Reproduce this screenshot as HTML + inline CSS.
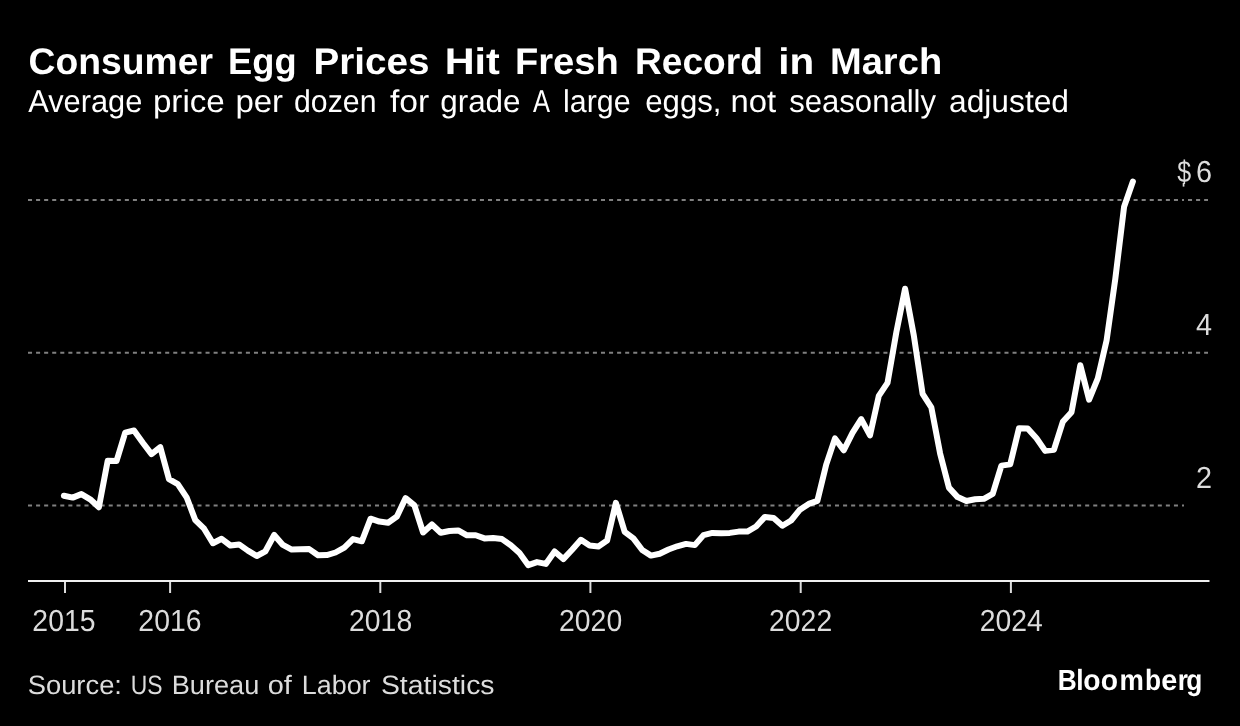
<!DOCTYPE html>
<html><head><meta charset="utf-8">
<style>
html,body{margin:0;padding:0;background:#000;}
body{width:1240px;height:726px;overflow:hidden;position:relative;font-family:"Liberation Sans",sans-serif;}
svg{position:absolute;left:0;top:0;display:block;will-change:transform;}
text{font-family:"Liberation Sans",sans-serif;text-rendering:geometricPrecision;}
.tb{font-size:37px;font-weight:bold;fill:#fff;}
.ts{font-size:31.5px;fill:#fff;}
.tc{font-size:26.5px;fill:#dcdcdc;}
.tl{font-size:29.2px;font-weight:bold;fill:#fff;}
.yl{font-size:30.5px;fill:#dcdcdc;text-anchor:end;}
.xl{font-size:30.5px;fill:#dcdcdc;text-anchor:middle;}
</style></head><body>
<svg width="1240" height="726" viewBox="0 0 1240 726">
<rect width="1240" height="726" fill="#000"/>
<!-- headline -->
<text class="tb" transform="translate(28.49,73.9) scale(1.0078,1)">Consumer</text>
<text class="tb" transform="translate(228.04,73.9) scale(0.9807,1)">Egg</text>
<text class="tb" transform="translate(313.41,73.9) scale(1.0437,1)">Prices</text>
<text class="tb" transform="translate(444.77,73.9) scale(1.117,1)">Hit</text>
<text class="tb" transform="translate(514.94,73.9) scale(1.0293,1)">Fresh</text>
<text class="tb" transform="translate(634.99,73.9) scale(1.003,1)">Record</text>
<text class="tb" transform="translate(778.31,73.9) scale(1.0929,1)">in</text>
<text class="tb" transform="translate(829.94,73.9) scale(1.0297,1)">March</text>
<!-- subhead -->
<text class="ts" transform="translate(28.25,111.5) scale(0.9765,1)">Average</text>
<text class="ts" transform="translate(152.89,111.5) scale(1.0531,1)">price</text>
<text class="ts" transform="translate(235.41,111.5) scale(1.0456,1)">per</text>
<text class="ts" transform="translate(294.04,111.5) scale(0.9603,1)">dozen</text>
<text class="ts" transform="translate(390.0,111.5) scale(1.0684,1)">for</text>
<text class="ts" transform="translate(440.25,111.5) scale(0.9963,1)">grade</text>
<text class="ts" transform="translate(533.0,111.5) scale(0.8095,1)">A</text>
<text class="ts" transform="translate(563.07,111.5) scale(0.9626,1)">large</text>
<text class="ts" transform="translate(645.26,111.5) scale(0.989,1)">eggs,</text>
<text class="ts" transform="translate(730.42,111.5) scale(1.0407,1)">not</text>
<text class="ts" transform="translate(789.25,111.5) scale(0.986,1)">seasonally</text>
<text class="ts" transform="translate(948.99,111.5) scale(1.0079,1)">adjusted</text>
<!-- gridlines -->
<g stroke="#808080" stroke-width="2" stroke-dasharray="4.03 4.04" fill="none">
<line x1="28" y1="200" x2="1184" y2="200"/>
<line x1="1188" y1="200" x2="1208" y2="200"/>
<line x1="28" y1="352.75" x2="1184" y2="352.75"/>
<line x1="1188" y1="352.75" x2="1208" y2="352.75"/>
<line x1="28" y1="505.5" x2="1184" y2="505.5"/>
</g>
<!-- x axis -->
<line x1="28" y1="581" x2="1209.5" y2="581" stroke="#f0f0f0" stroke-width="2"/>
<g stroke="#dcdcdc" stroke-width="2">
<line x1="65" y1="582" x2="65" y2="593"/>
<line x1="170.1" y1="582" x2="170.1" y2="593"/>
<line x1="380.3" y1="582" x2="380.3" y2="593"/>
<line x1="590.4" y1="582" x2="590.4" y2="593"/>
<line x1="800.7" y1="582" x2="800.7" y2="593"/>
<line x1="1010.9" y1="582" x2="1010.9" y2="593"/>
</g>
<!-- series -->
<path d="M63.9,495.7 L72.7,497.6 L81.4,494.1 L90.2,499.3 L98.9,507.2 L107.7,460.8 L116.5,461.1 L125.2,432.6 L134.0,430.5 L142.8,442.7 L151.5,454.1 L160.3,447.2 L169.0,479.2 L177.8,484.1 L186.6,497.3 L195.3,520.1 L204.1,528.7 L212.9,543.2 L221.6,538.8 L230.4,545.5 L239.1,544.4 L247.9,550.6 L256.7,556.0 L265.4,551.3 L274.2,535.0 L282.9,544.9 L291.7,549.6 L300.5,549.3 L309.2,549.1 L318.0,555.2 L326.8,555.1 L335.5,552.5 L344.3,547.6 L353.0,539.1 L361.8,541.3 L370.6,518.7 L379.3,521.6 L388.1,522.7 L396.9,516.5 L405.6,498.1 L414.4,505.4 L423.1,532.5 L431.9,524.5 L440.7,532.8 L449.4,531.0 L458.2,530.4 L467.0,535.3 L475.7,535.2 L484.5,538.4 L493.2,538.1 L502.0,539.1 L510.8,545.3 L519.5,553.0 L528.3,565.2 L537.0,562.1 L545.8,563.9 L554.6,551.5 L563.3,559.1 L572.1,549.7 L580.9,539.8 L589.6,545.5 L598.4,546.4 L607.1,540.6 L615.9,502.8 L624.7,531.8 L633.4,538.4 L642.2,550.0 L651.0,555.6 L659.7,553.7 L668.5,549.5 L677.2,546.3 L686.0,543.9 L694.8,545.1 L703.5,535.1 L712.3,532.9 L721.1,533.3 L729.8,532.9 L738.6,531.6 L747.3,531.6 L756.1,526.5 L764.9,516.9 L773.6,518.0 L782.4,525.8 L791.1,520.5 L799.9,509.7 L808.7,503.9 L817.4,500.8 L826.2,464.6 L835.0,438.4 L843.7,450.3 L852.5,432.8 L861.2,419.1 L870.0,435.4 L878.8,395.9 L887.5,382.9 L896.3,332.5 L905.1,288.7 L913.8,335.4 L922.6,393.9 L931.3,407.3 L940.1,453.4 L948.9,487.6 L957.6,497.1 L966.4,501.0 L975.1,499.3 L983.9,498.8 L992.7,493.8 L1001.4,465.6 L1010.2,464.4 L1019.0,428.2 L1027.7,428.5 L1036.5,438.3 L1045.2,450.9 L1054.0,449.7 L1062.8,421.8 L1071.5,412.3 L1080.3,365.2 L1089.1,399.7 L1097.8,378.4 L1106.6,340.4 L1115.3,278.8 L1124.1,206.7 L1132.9,181.5" fill="none" stroke="#fff" stroke-width="6" stroke-linejoin="round" stroke-linecap="round"/>
<!-- axis labels -->
<text class="xl" transform="translate(63.9,631) scale(0.93,1)">2015</text>
<text class="xl" transform="translate(169.9,631) scale(0.93,1)">2016</text>
<text class="xl" transform="translate(380.6,631) scale(0.93,1)">2018</text>
<text class="xl" transform="translate(590.6,631) scale(0.93,1)">2020</text>
<text class="xl" transform="translate(800.6,631) scale(0.93,1)">2022</text>
<text class="xl" transform="translate(1011.2,631) scale(0.93,1)">2024</text>
<text class="yl" transform="translate(1212,182) scale(0.945,1)">6</text>
<text class="yl" transform="translate(1191.2,182) scale(0.82,1)">$</text>
<rect x="1182.7" y="183" width="1.7" height="3.6" fill="#dcdcdc"/>
<text class="yl" transform="translate(1212,335) scale(0.945,1)">4</text>
<text class="yl" transform="translate(1212,488) scale(0.945,1)">2</text>
<!-- footer -->
<text class="tc" transform="translate(27.72,693.5) scale(1.0317,1)">Source:</text>
<text class="tc" transform="translate(130.77,693.5) scale(0.8642,1)">US</text>
<text class="tc" transform="translate(171.7,693.5) scale(1.0249,1)">Bureau</text>
<text class="tc" transform="translate(267.66,693.5) scale(1.0926,1)">of</text>
<text class="tc" transform="translate(301.72,693.5) scale(1.0159,1)">Labor</text>
<text class="tc" transform="translate(380.93,693.5) scale(1.0713,1)">Statistics</text>
<text class="tl" transform="translate(1057.84,689.7) scale(0.9,1)">B</text>
<text class="tl" transform="translate(1076.28,689.7) scale(0.9,1)">l</text>
<text class="tl" transform="translate(1083.22,689.7) scale(0.9681,1)">o</text>
<text class="tl" transform="translate(1100.64,689.7) scale(0.9681,1)">o</text>
<text class="tl" transform="translate(1119.38,689.7) scale(0.9408,1)">m</text>
<text class="tl" transform="translate(1145.12,689.7) scale(0.9,1)">b</text>
<text class="tl" transform="translate(1161.27,689.7) scale(0.9893,1)">e</text>
<text class="tl" transform="translate(1177.82,689.7) scale(0.9,1)">r</text>
<text class="tl" transform="translate(1186.22,689.7) scale(0.9,1)">g</text>
</svg>
</body></html>
